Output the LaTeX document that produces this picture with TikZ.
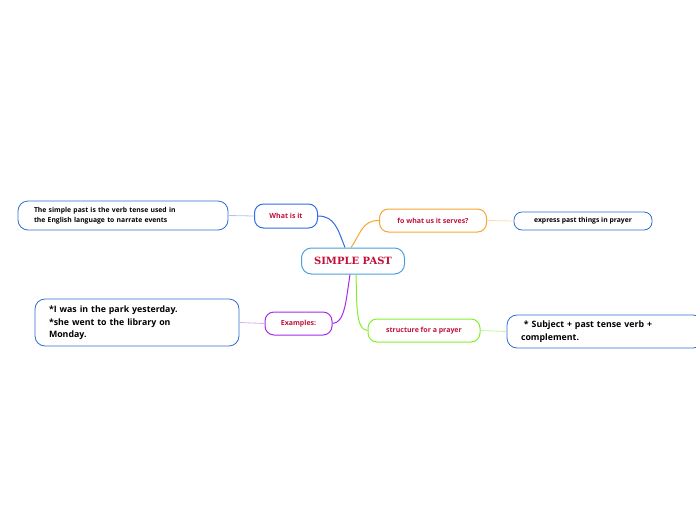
\documentclass[tikz,border=0pt]{standalone}
\usepackage{fontspec}
\setmainfont{Open Sans}
\newfontfamily\slab{DejaVu Serif}
\definecolor{tred}{HTML}{C0103A}
\definecolor{cblue}{HTML}{4A9FE0}
\definecolor{bblue}{HTML}{2F6BE8}
\definecolor{corange}{HTML}{F7A530}
\definecolor{cpurple}{HTML}{A52BEA}
\definecolor{cgreen}{HTML}{84EE2E}
\definecolor{lblue}{HTML}{2F6FCF}
\begin{document}
\begin{tikzpicture}[x=1pt,y=-1pt,
  box/.style={draw,rounded corners=9pt,line width=1pt,minimum height=24pt,text=tred,font=\fontsize{7}{8}\selectfont\bfseries,inner sep=0pt},
  leaf/.style={draw=lblue,rounded corners=10pt,line width=0.8pt,inner ysep=0pt,align=left,text=black},
  con/.style={line width=1pt}]
\useasboundingbox (0,0) rectangle (696,520);
\node[box,draw=cblue,minimum width=103pt,minimum height=26pt,font=\slab\fontsize{10}{10}\selectfont\bfseries,rounded corners=10pt] (c) at (353,261) {SIMPLE PAST};
\node[box,draw=bblue,minimum width=63pt] (w) at (286,216) {What is it};
\node[box,draw=corange,minimum width=107pt,minimum height=23pt] (f) at (433,220.5) {fo what us it serves?};
\node[box,draw=cpurple,minimum width=67pt,minimum height=23pt] (e) at (298.5,323.5) {Examples:};
\node[box,draw=cgreen,minimum width=112pt,minimum height=23pt] (s) at (424,330.5) {structure for a prayer};
\node[leaf,inner xsep=0pt,text width=210pt,minimum height=29pt,font=\fontsize{6.8}{10}\selectfont\bfseries] (wd) at (123,215.5) {\hspace*{16pt}\begin{tabular}{@{}l@{}}The simple past is the verb tense used in\\the English language to narrate events\end{tabular}};
\node[leaf,minimum width=138pt,minimum height=18pt,rounded corners=8pt,font=\fontsize{6.8}{8}\selectfont\bfseries] (fd) at (583,221) {express past things in prayer};
\node[leaf,inner xsep=0pt,text width=204pt,minimum height=47pt,font=\fontsize{8.8}{12.5}\selectfont\bfseries] (ed) at (137,322.5) {\hspace*{14pt}\begin{tabular}{@{}l@{}}*I was in the park yesterday.\\{}*she went to the library on\\Monday.\end{tabular}};
\node[leaf,inner xsep=0pt,text width=196pt,minimum height=33pt,font=\fontsize{8.8}{12.5}\selectfont\bfseries] (sd) at (605,331.5) {\hspace*{14pt}\begin{tabular}{@{}l@{}}\ * Subject + past tense verb +\\complement.\end{tabular}};
\draw[con,bblue] ([xshift=-8pt]c.north) .. controls (338,230) and (335,216) .. (w.east);
\draw[con,corange] ([xshift=-2pt]c.north) .. controls (360,235) and (362,220) .. (f.west);
\draw[con,cpurple] ([xshift=-3pt]c.south) .. controls (346,300) and (345,323) .. (e.east);
\draw[con,cgreen] ([xshift=3pt]c.south) .. controls (357,300) and (355,330) .. (s.west);
\draw[bblue!40,line width=0.8pt] (w.west) -- (wd.east);
\draw[corange!40,line width=0.8pt] (f.east) -- (fd.west);
\draw[cpurple!40,line width=0.8pt] (e.west) -- (ed.east);
\draw[cgreen!50,line width=0.8pt] (s.east) -- (sd.west);
\end{tikzpicture}
\end{document}
